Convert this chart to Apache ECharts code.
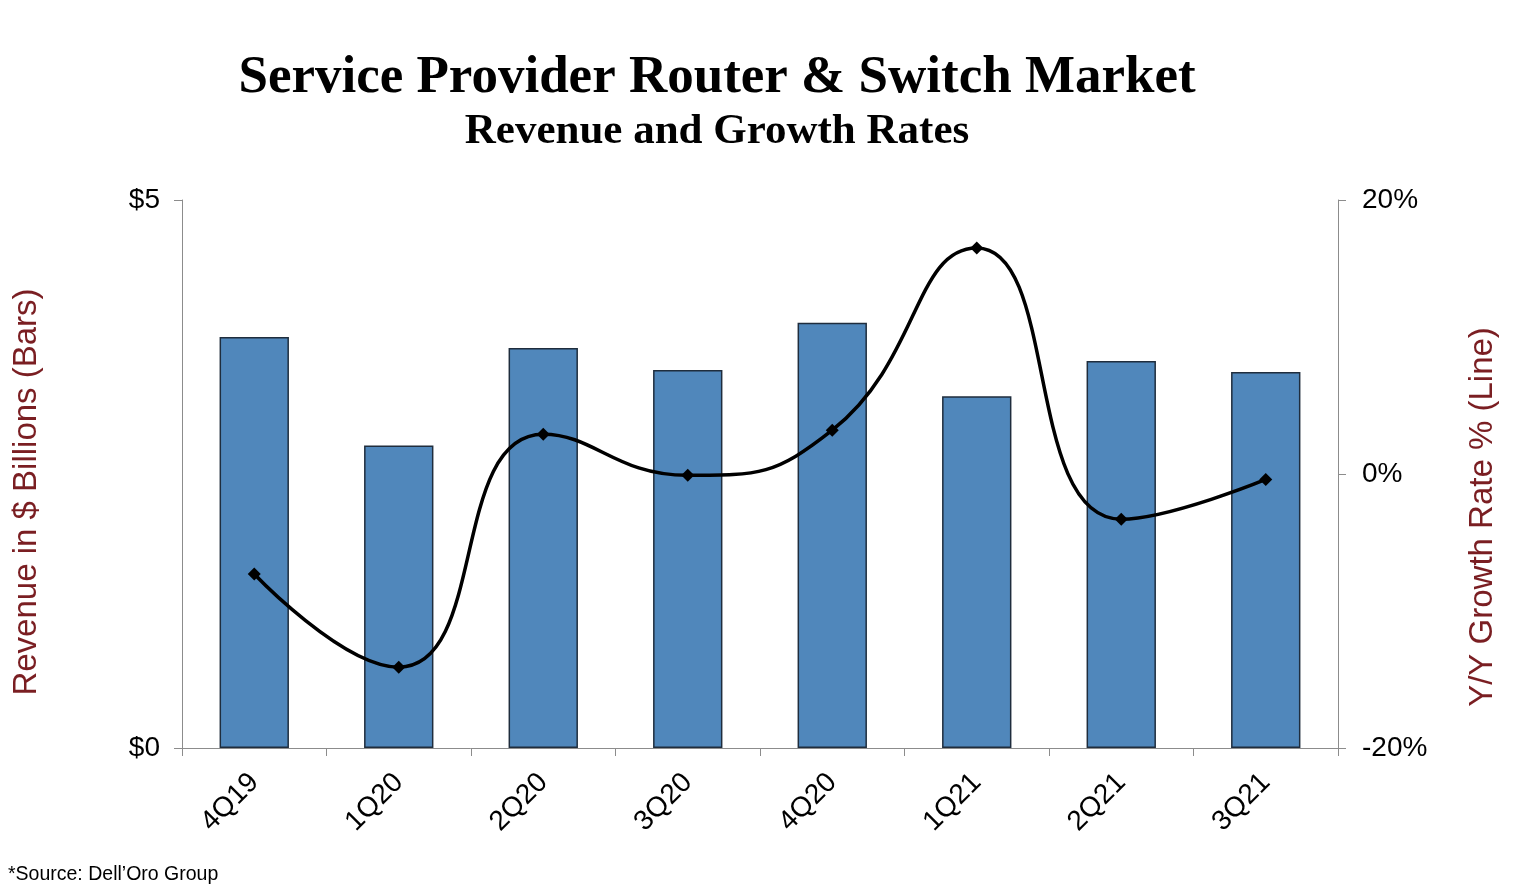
<!DOCTYPE html>
<html>
<head>
<meta charset="utf-8">
<script src="https://cdn.jsdelivr.net/npm/echarts@6/dist/echarts.min.js"></script>
<style>
html,body{margin:0;padding:0;background:#fff;}
#chart{width:1536px;height:891px;}
</style>
</head>
<body>
<div id="chart"></div>
<script>
const categories = ['4Q19','1Q20','2Q20','3Q20','4Q20','1Q21','2Q21','3Q21'];
const revenue = [3.75, 2.76, 3.65, 3.45, 3.88, 3.21, 3.53, 3.43];
const growth = [-7.3, -14.1, 2.9, -0.1, 3.2, 16.5, -3.3, -0.4];
const leftTicks = [0, 5];
const rightTicks = [-20, 0, 20];

const chart = echarts.init(document.getElementById('chart'));
const axisGray = '#8c8c8c';
const nameRed = '#7a1e22';
chart.setOption({
  animation: false,
  backgroundColor: '#fff',
  title: [
    {text: 'Service Provider Router & Switch Market', left: 712, top: 47, textAlign: 'center',
     textStyle: {fontFamily: 'Liberation Serif', fontWeight: 'bold', fontSize: 53, color: '#000'}},
    {text: 'Revenue and Growth Rates', left: 712, top: 105, textAlign: 'center',
     textStyle: {fontFamily: 'Liberation Serif', fontWeight: 'bold', fontSize: 43, color: '#000'}}
  ],
  grid: {left: 182, right: 198, top: 200, bottom: 143},
  xAxis: {
    type: 'category', data: categories,
    axisLine: {lineStyle: {color: axisGray, width: 1}},
    axisTick: {show: true, alignWithLabel: false, length: 8, lineStyle: {color: axisGray}},
    axisLabel: {rotate: 45, margin: 30, fontFamily: 'Liberation Sans', fontSize: 28, color: '#000'}
  },
  yAxis: [
    {type: 'value', min: leftTicks[0], max: leftTicks[leftTicks.length-1], interval: 5,
     axisLine: {show: true, lineStyle: {color: axisGray}},
     axisTick: {show: true, length: 8, lineStyle: {color: axisGray}},
     splitLine: {show: false},
     axisLabel: {margin: 22, fontFamily: 'Liberation Sans', fontSize: 28, color: '#000',
       formatter: v => '$' + v}},
    {type: 'value', min: rightTicks[0], max: rightTicks[rightTicks.length-1], interval: 20,
     position: 'right',
     axisLine: {show: true, lineStyle: {color: axisGray}},
     axisTick: {show: true, length: 8, lineStyle: {color: axisGray}},
     splitLine: {show: false},
     axisLabel: {margin: 24, fontFamily: 'Liberation Sans', fontSize: 28, color: '#000',
       formatter: v => v + '%'}}
  ],
  graphic: [
    {type: 'text', x: 27, y: 492, rotation: Math.PI/2,
     style: {text: 'Revenue in $ Billions (Bars)', fill: nameRed, font: '33px "Liberation Sans"',
       textAlign: 'center', textVerticalAlign: 'middle'}},
    {type: 'text', x: 1483, y: 517, rotation: Math.PI/2,
     style: {text: 'Y/Y Growth Rate % (Line)', fill: nameRed, font: '33px "Liberation Sans"',
       textAlign: 'center', textVerticalAlign: 'middle'}},
    {type: 'text', x: 8, y: 875,
     style: {text: '*Source: Dell\u2019Oro Group', fill: '#000', font: '19.5px "Liberation Sans"',
       textAlign: 'left', textVerticalAlign: 'middle'}}
  ],
  series: [
    {type: 'bar', data: revenue, yAxisIndex: 0, barWidth: '48%',
     itemStyle: {color: '#5087bb', borderColor: '#1f2d3d', borderWidth: 1.5}},
    {type: 'line', data: growth, yAxisIndex: 1, smooth: 0.5,
     symbol: 'diamond', symbolSize: 13,
     lineStyle: {color: '#000', width: 3.5},
     itemStyle: {color: '#000'}}
  ]
});
</script>
</body>
</html>
